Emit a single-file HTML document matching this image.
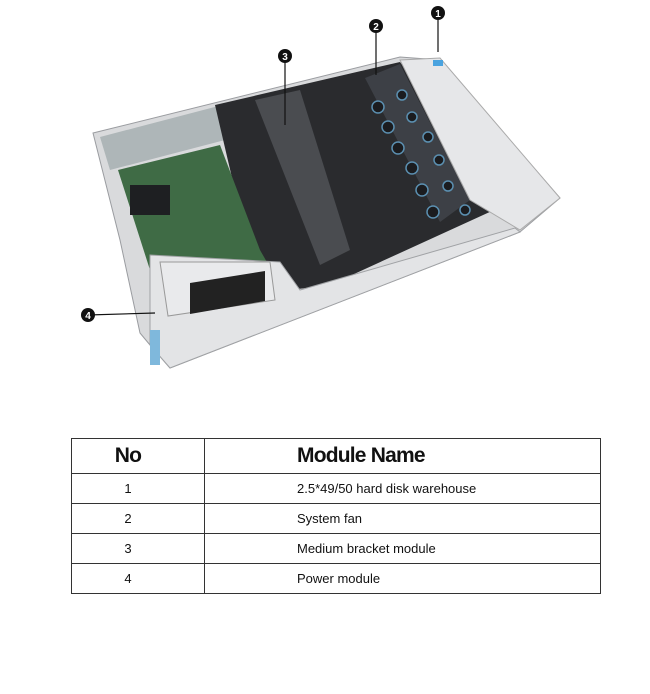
<!DOCTYPE html>
<html><head><meta charset="utf-8"><style>
body{margin:0;background:#fff;width:650px;height:694px;overflow:hidden;font-family:"Liberation Sans",sans-serif}
svg{position:absolute;left:0;top:0}
table{position:absolute;left:71px;top:438px;width:530px;border-collapse:collapse;color:#111}
td{border:1px solid #333;height:29px;padding:0;font-size:13px}
tr.h td{height:34px;font-size:21px;font-weight:bold;letter-spacing:-0.8px}
td.n{width:133px;text-align:center;padding-right:20px;box-sizing:border-box}
td.m{padding-left:92px}
</style></head><body>
<svg width="650" height="400" viewBox="0 0 650 400">
<polygon points="93,133 400,57 440,60 560,198 520,232 170,368 150,345 140,333 120,240" fill="#d9dadc" stroke="#9a9ca0"/>
<polygon points="100,137 230,103 225,140 110,170" fill="#aeb6b8"/>
<polygon points="215,105 400,62 505,205 330,285 290,290 250,255" fill="#2a2b2e"/>
<polygon points="255,100 300,90 350,250 320,265" fill="#4a4c50"/>
<polygon points="365,78 400,64 470,200 440,222" fill="#3d4046"/>
<g fill="#1b1c1f" stroke="#5b8fb0" stroke-width="1.5">
<circle cx="378" cy="107" r="6"/><circle cx="388" cy="127" r="6"/><circle cx="398" cy="148" r="6"/><circle cx="412" cy="168" r="6"/><circle cx="422" cy="190" r="6"/><circle cx="433" cy="212" r="6"/>
<circle cx="402" cy="95" r="5"/><circle cx="412" cy="117" r="5"/><circle cx="428" cy="137" r="5"/><circle cx="439" cy="160" r="5"/><circle cx="448" cy="186" r="5"/><circle cx="465" cy="210" r="5"/>
</g>
<polygon points="400,60 440,58 560,198 520,230 470,200" fill="#e6e7e9" stroke="#aaa"/>
<rect x="433" y="60" width="10" height="6" fill="#4aa3df"/>
<polygon points="118,170 220,145 260,250 280,285 160,300 150,270" fill="#3f6b45"/>
<rect x="130" y="185" width="40" height="30" fill="#1e1f22"/>
<polygon points="150,255 280,262 300,290 515,228 520,232 170,368 150,345" fill="#e3e4e6" stroke="#a0a2a5"/>
<polygon points="160,262 270,262 275,300 168,316" fill="#e9eaec" stroke="#999"/>
<polygon points="190,283 265,271 265,301 190,314" fill="#222"/>
<rect x="150" y="330" width="10" height="35" fill="#7fb8dc"/>
<g stroke="#111" stroke-width="1.2">
<line x1="438" y1="13" x2="438" y2="52"/><line x1="376" y1="26" x2="376" y2="75"/><line x1="285" y1="56" x2="285" y2="125"/><line x1="88" y1="315" x2="155" y2="313"/>
</g>
<g fill="#111"><circle cx="438" cy="13" r="7"/><circle cx="376" cy="26" r="7"/><circle cx="285" cy="56" r="7"/><circle cx="88" cy="315" r="7"/></g>
<g fill="#fff" font-family="Liberation Sans" font-weight="bold" font-size="10" text-anchor="middle">
<text x="438" y="17">1</text><text x="376" y="30">2</text><text x="285" y="60">3</text><text x="88" y="319">4</text></g>
</svg>
<table>
<tr class="h"><td class="n">No</td><td class="m">Module Name</td></tr>
<tr><td class="n">1</td><td class="m">2.5*49/50 hard disk warehouse</td></tr>
<tr><td class="n">2</td><td class="m">System fan</td></tr>
<tr><td class="n">3</td><td class="m">Medium bracket module</td></tr>
<tr><td class="n">4</td><td class="m">Power module</td></tr>
</table>
</body></html>
